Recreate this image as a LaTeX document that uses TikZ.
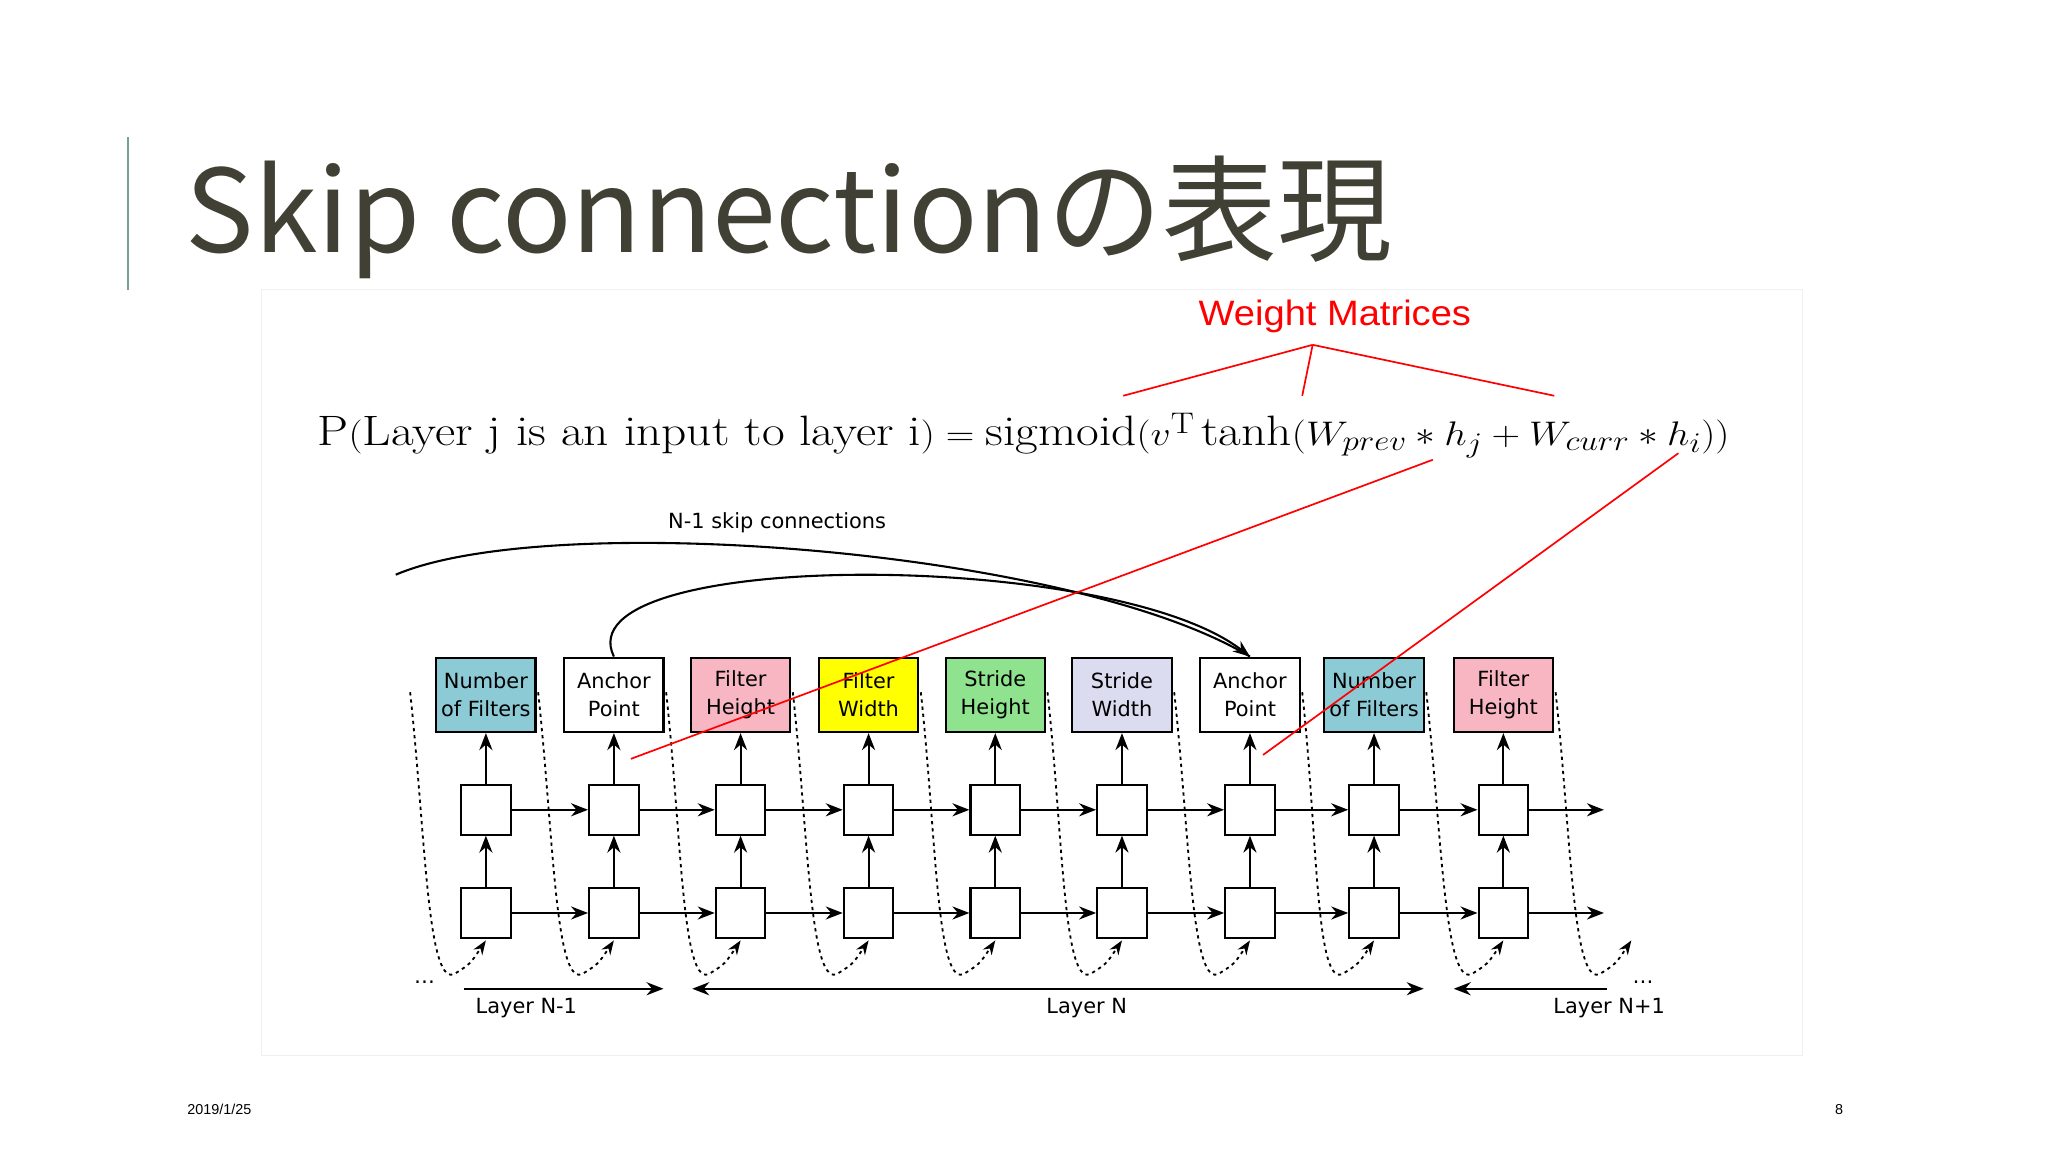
\documentclass[tikz,border=0pt]{standalone}
\usepackage{fontspec}
\newfontfamily\boxfont{DejaVu Sans}
\newfontfamily\jpfont{Noto Sans CJK JP}
\newfontfamily\lsans{Liberation Sans}
\usetikzlibrary{arrows.meta}
\definecolor{cNF}{HTML}{8CCAD6}
\definecolor{cFH}{HTML}{F7B6C2}
\definecolor{cFW}{HTML}{FFFF00}
\definecolor{cSH}{HTML}{8FE38F}
\definecolor{cSW}{HTML}{DCDCF0}
\tikzset{
  outbox/.style={draw, line width=1.6pt, minimum width=76pt, minimum height=57pt, align=center, font=\boxfont\fontsize{16}{21}\selectfont, inner sep=0pt},
  cell/.style={draw, fill=white, line width=1.6pt, minimum width=38pt, minimum height=38pt, inner sep=0pt},
  arr/.style={line width=1.6pt, -{Stealth[length=13pt,width=10pt]}},
  dotarr/.style={line width=1.4pt, dash pattern=on 2.5pt off 3pt, -{Stealth[length=11pt,width=8pt]}},
  redl/.style={red, line width=1.3pt},
  lbl/.style={font=\boxfont\fontsize{16}{20}\selectfont}
}
\begin{document}
\begin{tikzpicture}[x=1pt,y=-1pt]
\useasboundingbox (0,0) rectangle (1568,882);
\fill[white] (0,0) rectangle (1568,882);
\draw[color={rgb,255:red,120;green,160;blue,140}, line width=2pt] (98,105) -- (98,222);
\node[anchor=base west, inner sep=0pt, text={rgb,255:red,64;green,64;blue,52}, font=\jpfont\fontsize{88}{90}\selectfont] (title) at (142,193) {Skip connectionの表現};
\draw[black!6, line width=0.8pt] (200,222) rectangle (1380,808);
\node[anchor=base, inner sep=0pt, font=\lsans\fontsize{11}{12}\selectfont] (date) at (168,853) {2019/1/25};
\node[anchor=base, inner sep=0pt, font=\lsans\fontsize{11}{12}\selectfont] (pg) at (1408,853) {8};
% equation
\node[anchor=base west, inner sep=0pt, font=\fontsize{31}{34}\selectfont] (eq) at (243,341)
 {\scalebox{1.22}[1.05]{$\mathrm{P}(\mbox{Layer j is an input to layer i}) = \mathrm{sigmoid}(v^{\mathrm{T}}\tanh(W_{prev}*h_j+W_{curr}*h_i))$}};
\node[text=red, font=\lsans\fontsize{27}{30}\selectfont, inner sep=0pt] (wm) at (1022,242) {\scalebox{1.08}[1]{Weight Matrices}};
\coordinate (wmc) at (1005,264);
\coordinate (r1) at (860,303);
\coordinate (r2) at (997,303);
\coordinate (r3) at (1190,303);
% columns
\foreach \i/\x/\t/\c in {1/372/Number\\of Filters/cNF, 2/470/Anchor\\Point/white, 3/567/Filter\\Height/cFH, 4/665/Filter\\Width/cFW, 5/762/Stride\\Height/cSH, 6/859/Stride\\Width/cSW, 7/957/Anchor\\Point/white, 8/1052/Number\\of Filters/cNF, 9/1151/Filter\\Height/cFH}{
  \node[outbox, fill=\c] (o\i) at (\x,532) {\t};
  \node[cell] (a\i) at (\x,620) {};
  \node[cell] (b\i) at (\x,699) {};
  \draw[arr] (b\i) -- (a\i);
  \draw[arr] (a\i) -- (o\i);
}
\foreach \i/\j in {1/2,2/3,3/4,4/5,5/6,6/7,7/8,8/9}{
  \draw[arr] (a\i) -- (a\j);
  \draw[arr] (b\i) -- (b\j);
}
\coordinate (ae) at (1228,620);
\coordinate (be) at (1228,699);
\draw[arr] (a9) -- (ae);
\draw[arr] (b9) -- (be);
% dotted recurrences
\foreach \x/\y in {274/372,372/470,470/567,567/665,665/762,762/859,859/957,957/1052,1052/1151,1151/1249}{
  \draw[dotarr] (\x+40,530) .. controls (\x+52,640) and (\y-45,760) .. (\y-23,745) .. controls (\y-12,738) .. (\y,720);
}
% skip connections
\coordinate (s0) at (303,440);
\draw[line width=1.6pt] (s0) .. controls (420,390) and (820,420) .. (o7.north);
\draw[arr] (o2.north) .. controls (430,420) and (850,420) .. (o7.north);
\node[lbl] (skl) at (595,400) {N-1 skip connections};
% layers
\node[lbl] (dl) at (325,752) {\dots};
\coordinate (l1a) at (355,757); \coordinate (l1b) at (508,757);
\draw[arr] (l1a) -- (l1b);
\node[lbl] (ln1) at (403,772) {Layer N-1};
\coordinate (l2a) at (530,757); \coordinate (l2b) at (1090,757);
\draw[line width=1.6pt, {Stealth[length=13pt,width=10pt]}-{Stealth[length=13pt,width=10pt]}] (l2a) -- (l2b);
\node[lbl] (ln2) at (832,772) {Layer N};
\coordinate (l3a) at (1230,757); \coordinate (l3b) at (1113,757);
\draw[arr] (l3a) -- (l3b);
\node[lbl] (dr) at (1258,752) {\dots};
\node[lbl] (ln3) at (1232,772) {Layer N+1};
% red lines
\draw[redl] (wmc) -- (r1);
\draw[redl] (wmc) -- (r2);
\draw[redl] (wmc) -- (r3);
\coordinate (r4) at (1097,352); \coordinate (r4e) at (483,581);
\coordinate (r5) at (1285,347); \coordinate (r5e) at (967,578);
\draw[redl] (r4) -- (r4e);
\draw[redl] (r5) -- (r5e);
\end{tikzpicture}
\end{document}
